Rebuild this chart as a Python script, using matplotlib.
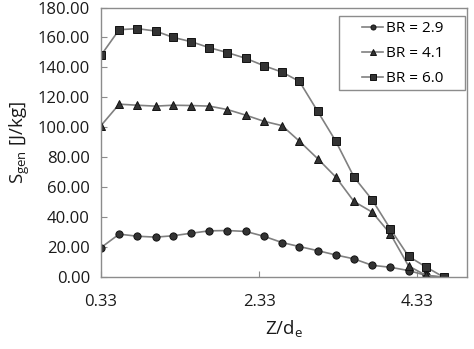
import matplotlib
matplotlib.use("Agg")
import matplotlib.pyplot as plt
from matplotlib.patches import Rectangle

plt.rcParams['font.family'] = ['Open Sans', 'DejaVu Sans']

z_de = [0.33, 0.56, 0.79, 1.02, 1.24, 1.47, 1.70, 1.93, 2.16, 2.39,
        2.62, 2.84, 3.07, 3.30, 3.53, 3.76, 3.99, 4.22, 4.44, 4.67]
br_29 = [19.8, 28.8, 27.4, 26.8, 27.7, 29.4, 31.0, 31.2, 30.6, 27.4,
         23.2, 20.5, 17.8, 14.9, 12.3, 8.0, 6.7, 4.5, 1.3, 0.0]
br_41 = [101.2, 115.5, 114.8, 114.2, 114.8, 114.6, 114.2, 111.9, 108.2, 104.1,
         101.2, 90.8, 79.2, 66.9, 50.6, 43.5, 29.0, 7.6, 1.3, 0.0]
br_60 = [148.1, 165.2, 165.9, 164.3, 160.1, 157.2, 153.2, 149.9, 146.1, 141.2,
         136.9, 130.7, 110.8, 90.8, 66.9, 51.7, 32.3, 14.0, 6.9, 0.0]
series_labels = ['BR = 2.9', 'BR = 4.1', 'BR = 6.0']
x_ticks = [0.33, 2.33, 4.33]
y_ticks = [0, 20, 40, 60, 80, 100, 120, 140, 160, 180]

W, H = 474, 349
fig = plt.figure(figsize=(W / 100, H / 100), dpi=100)
ax = fig.add_axes([101 / W, 1 - 277.3 / H, (467 - 101) / W, (277.3 - 7.5) / H])

line_col = '#808080'
mk_col = '#333333'
for ys, mk, ms, lab in [(br_29, 'o', 5.2, series_labels[0]),
                        (br_41, '^', 5.6, series_labels[1]),
                        (br_60, 's', 5.2, series_labels[2])]:
    ax.plot(z_de, ys, color=line_col, lw=1.2, marker=mk, ms=ms,
            markerfacecolor=mk_col, markeredgecolor='#111111', markeredgewidth=0.7,
            label=lab)

ax.set_xlim(0.33, 4.96)
ax.set_ylim(0, 180)
ax.set_xticks(x_ticks)
ax.set_xticklabels(['%.2f' % v for v in x_ticks])
ax.set_yticks(y_ticks)
ax.set_yticklabels(['%.2f' % v for v in y_ticks])

for s in ax.spines.values():
    s.set_color('#8c8c8c')
    s.set_linewidth(1.0)
ax.tick_params(axis='both', direction='in', color='#8c8c8c', labelsize=12,
               labelcolor='#1a1a1a')
ax.tick_params(axis='y', length=4, pad=8)
ax.tick_params(axis='x', length=4, pad=12)

ax.set_xlabel('Z/d$_\\mathregular{e}$', fontsize=13.5, color='#1a1a1a', labelpad=6)
ax.set_ylabel('S$_\\mathregular{gen}$ [J/kg]', fontsize=13.5, color='#1a1a1a', labelpad=4)

# legend box (Excel-style frame)
fig.patches.append(Rectangle((339 / W, 1 - 90 / H), 126 / W, 74 / H,
                             transform=fig.transFigure, facecolor='white',
                             edgecolor='#8c8c8c', lw=1.0, zorder=3))
leg = fig.legend(loc='upper left', bbox_to_anchor=(362 / W, 1 - 21 / H), fontsize=11,
                 frameon=False, handlelength=1.4, handletextpad=0.2,
                 borderpad=0.0, labelspacing=0.66, borderaxespad=0.0, markerscale=0.7)
leg.set_zorder(4)

fig.savefig('out.png', dpi=100)
